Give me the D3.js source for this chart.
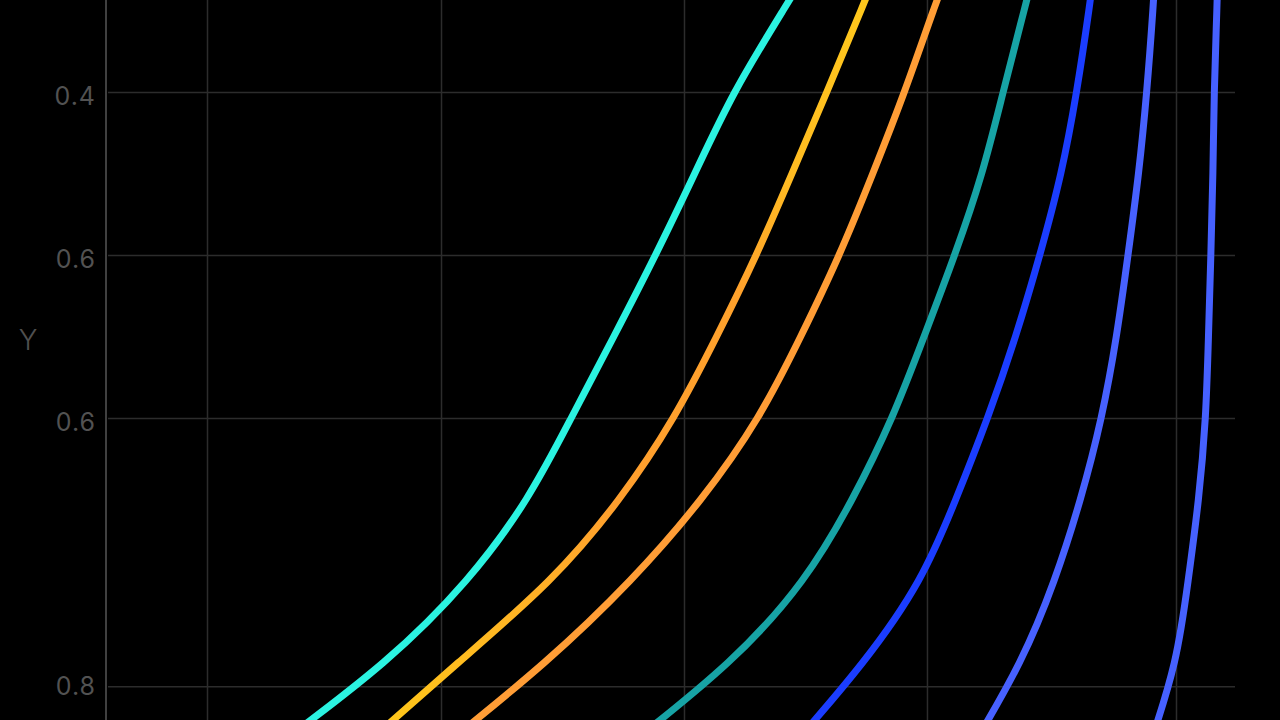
<!DOCTYPE html>
<html>
<head>
<meta charset="utf-8">
<script src="https://cdn.jsdelivr.net/npm/d3@7"></script>
<style>
  html, body { margin: 0; padding: 0; background: #000; }
  svg { display: block; }
</style>
</head>
<body>
<svg id="chart" width="1280" height="720"></svg>
<script>
// ---- data ----
const yLevels = [1.2, 1.1, 1.0, 0.9, 0.8, 0.7, 0.6, 0.5, 0.4, 0.3, 0.2];
const seriesNames = ["s1", "s2", "s3", "s4", "s5", "s6", "s7"];
const s1 = [2.584, 2.378, 2.171, 2.014, 1.853, 1.680, 1.503, 1.329, 1.082, 0.747, 0.297];
const s2 = [2.836, 2.700, 2.559, 2.415, 2.270, 2.105, 1.932, 1.709, 1.428, 1.036, 0.656];
const s3 = [3.121, 2.997, 2.881, 2.749, 2.613, 2.452, 2.283, 2.047, 1.754, 1.404, 0.987];
const s4 = [3.459, 3.373, 3.286, 3.203, 3.088, 2.960, 2.832, 2.667, 2.473, 2.171, 1.746];
const s5 = [3.686, 3.641, 3.591, 3.529, 3.439, 3.340, 3.224, 3.092, 2.952, 2.716, 2.423];
const s6 = [3.926, 3.905, 3.880, 3.847, 3.802, 3.756, 3.695, 3.608, 3.501, 3.364, 3.166];
const s7 = [4.178, 4.169, 4.157, 4.153, 4.144, 4.134, 4.124, 4.095, 4.050, 4.004, 3.893];
const seriesValues = [s1, s2, s3, s4, s5, s6, s7];
const seriesColors = ["#2bf3e1", "url(#g2)", "#ff9d36", "#17a3a5", "#1b3dff", "#4761ff", "#4661ff"];
const xGridValues = [0, 0.966, 1.969, 2.972, 4.0];
const yTickValues = [1.0, 0.8, 0.6, 0.271];
const yTickLabels = ["0.4", "0.6", "0.6", "0.8"];
const yAxisTitle = "Y";

// ---- scales ----
const x = d3.scaleLinear().domain([0, 4]).range([207, 1176]);
const y = d3.scaleLinear().domain([0.6, 1.0]).range([418, 92]);

const svg = d3.select("#chart");
svg.append("rect").attr("width", 1280).attr("height", 720).attr("fill", "#000");

const defs = svg.append("defs");
const g2 = defs.append("linearGradient").attr("id", "g2")
  .attr("gradientUnits", "userSpaceOnUse")
  .attr("x1", 0).attr("y1", 0).attr("x2", 0).attr("y2", 720);
[[0, "#ffc81c"], [0.25, "#ffbb22"], [0.4, "#ffa22c"], [0.7, "#ff9f2e"], [0.85, "#ffb424"], [1, "#ffc61a"]]
  .forEach(([o, c]) => g2.append("stop").attr("offset", o).attr("stop-color", c));

// vertical gridlines
const xAxisG = svg.append("g").attr("transform", "translate(0,720)")
  .call(d3.axisBottom(x).tickValues(xGridValues).tickSize(-720).tickFormat(""));
xAxisG.select(".domain").remove();
xAxisG.selectAll(".tick line").attr("stroke", "#2c2c2c").attr("stroke-width", 1.5);

// horizontal gridlines + labels
const yAxisG = svg.append("g").attr("transform", "translate(108,0)")
  .call(d3.axisLeft(y).tickValues(yTickValues).tickSize(-1127)
    .tickFormat((d, i) => yTickLabels[i]).tickPadding(12));
yAxisG.select(".domain").remove();
yAxisG.selectAll(".tick line").attr("stroke", "#2c2c2c").attr("stroke-width", 1.5);
yAxisG.selectAll(".tick text")
  .attr("fill", "#525252")
  .attr("font-family", "Inter, 'DejaVu Sans', sans-serif")
  .attr("font-size", 25)
  .attr("letter-spacing", 1)
  .attr("dy", (d, i) => i === 3 ? "0.35em" : "0.5em");

// axis line
svg.append("line").attr("x1", 106).attr("x2", 106).attr("y1", 0).attr("y2", 720)
  .attr("stroke", "#404040").attr("stroke-width", 2);

// Y title
svg.append("text").attr("x", 28).attr("y", 342)
  .attr("text-anchor", "middle").attr("dominant-baseline", "middle")
  .attr("fill", "#4f4f4f")
  .attr("font-family", "Inter, 'DejaVu Sans', sans-serif")
  .attr("font-weight", 300)
  .attr("font-size", 28).text(yAxisTitle);

// curves
const line = d3.line()
  .x(d => x(d[0])).y(d => y(d[1]))
  .curve(d3.curveBasis);

seriesValues.forEach((vals, i) => {
  const pts = vals.map((v, j) => [v, yLevels[j]]);
  svg.append("path")
    .datum(pts)
    .attr("class", "series " + seriesNames[i])
    .attr("fill", "none")
    .attr("stroke", seriesColors[i])
    .attr("stroke-width", 7)
    .attr("stroke-linecap", "round")
    .attr("d", line);
});
</script>
</body>
</html>
